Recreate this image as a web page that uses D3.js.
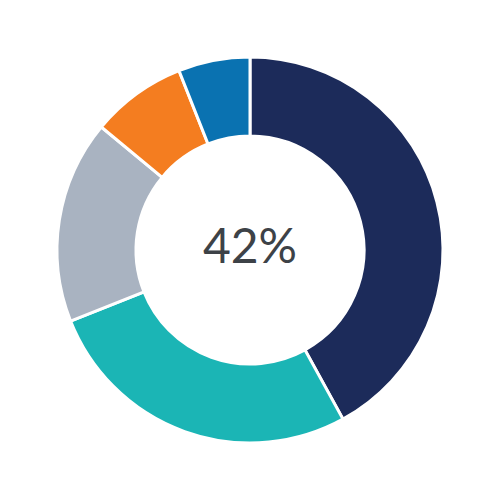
<!DOCTYPE html>
<html>
<head>
<meta charset="utf-8">
<script src="https://cdn.jsdelivr.net/npm/d3@7"></script>
<style>
  html, body { margin: 0; padding: 0; background: #fff; }
</style>
</head>
<body>
<svg id="chart" width="500" height="500"></svg>
<script>
// slice values, clockwise from 12 o'clock
var categories = ['A', 'B', 'C', 'D', 'E'];
var values = [42, 27, 17, 8, 6];
var colors = ['#1c2b5a', '#1bb5b5', '#a9b3c1', '#f47d20', '#0a72b1'];
var centerLabel = '42%';

var width = 500,
    height = 500,
    outerR = 193,
    innerR = 114;

var svg = d3.select('#chart');
var g = svg.append('g')
  .attr('transform', 'translate(' + width / 2 + ',' + height / 2 + ')');

var color = d3.scaleOrdinal().domain(categories).range(colors);

var pie = d3.pie()
  .value(function (d) { return d.value; })
  .sort(null);

var arc = d3.arc().innerRadius(innerR).outerRadius(outerR);

var data = categories.map(function (c, i) {
  return {name: c, value: values[i]};
});

g.selectAll('path')
  .data(pie(data))
  .enter()
  .append('path')
    .attr('d', arc)
    .attr('fill', function (d) { return color(d.data.name); })
    .attr('stroke', '#fff')
    .attr('stroke-width', 3);

// big number in the hole
g.append('text')
  .attr('x', 0)
  .attr('y', 13)
  .attr('text-anchor', 'middle')
  .attr('font-family', 'Lato, "Open Sans", sans-serif')
  .attr('font-size', 48)
  .attr('fill', '#3d4247')
  .text(centerLabel);
</script>
</body>
</html>
